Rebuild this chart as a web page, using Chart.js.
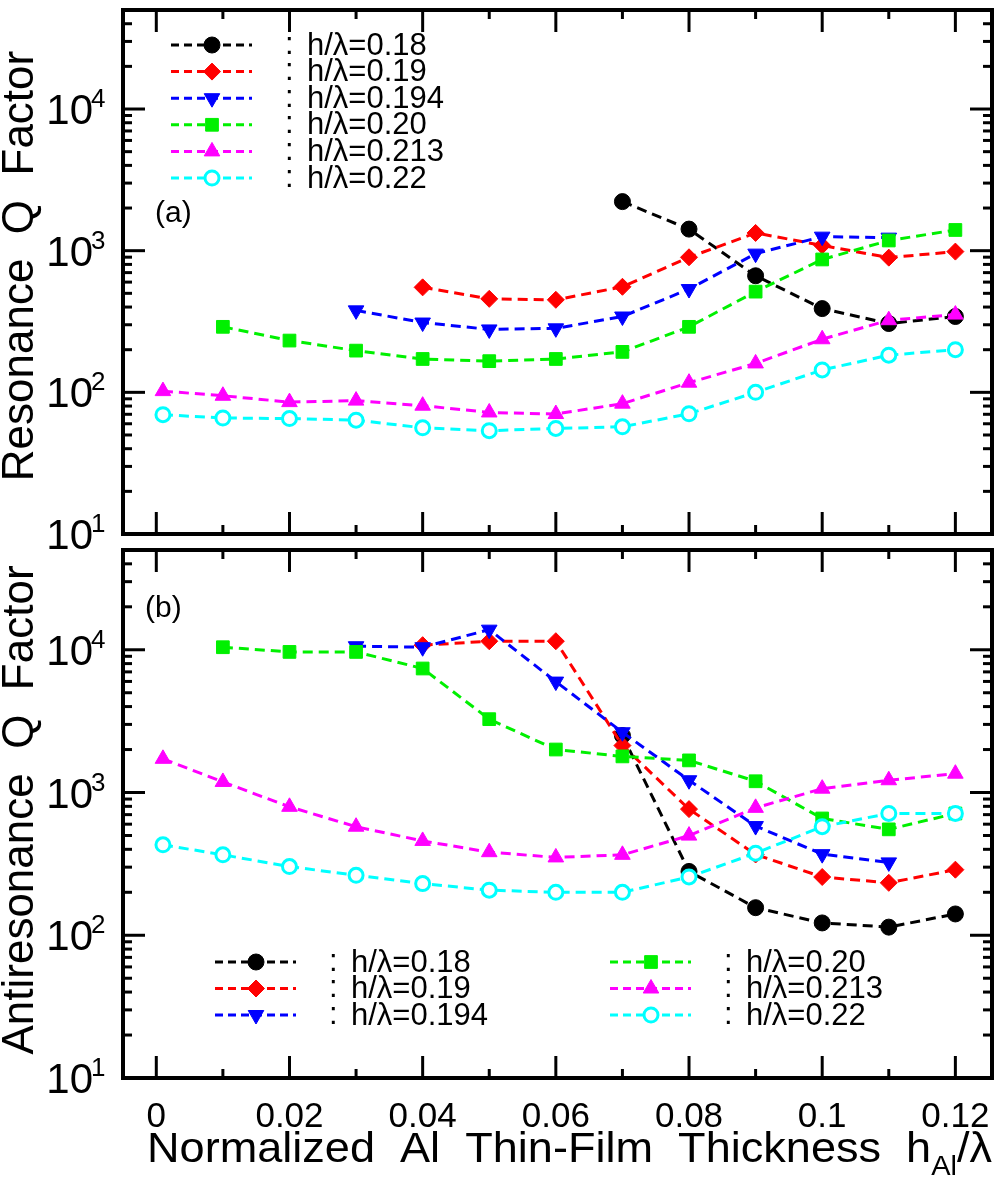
<!DOCTYPE html>
<html>
<head>
<meta charset="utf-8">
<script src="https://cdn.jsdelivr.net/npm/chart.js@4.4.0/dist/chart.umd.min.js"></script>
<style>
    body { margin: 0; background: #fff; }
    #wrap { position: relative; width: 1002px; height: 1178px; }
    canvas { position: absolute; left: 0; }
    #resonance { top: 0; z-index: 2; }
    #antiresonance { top: 540px; z-index: 1; }
</style>
</head>
<body>
<div id="wrap">
    <canvas id="resonance" width="1002" height="552"></canvas>
    <canvas id="antiresonance" width="1002" height="638"></canvas>
</div>
<script>
// normalized Al thickness h_Al/lambda
const thickness = [0.001, 0.01, 0.02, 0.03, 0.04, 0.05, 0.06, 0.07, 0.08, 0.09, 0.10, 0.11, 0.12];

const seriesNames = ['h/λ=0.18', 'h/λ=0.19', 'h/λ=0.194', 'h/λ=0.20', 'h/λ=0.213', 'h/λ=0.22'];

// (a) resonance Q
const resQ018  = [null, null, null, null, null, null, null, 2220, 1420, 665, 390, 306, 343];
const resQ019  = [null, null, null, null, 551, 457, 450, 556, 898, 1334, 1089, 893, 985];
const resQ0194 = [null, null, null, 379, 311, 278, 283, 343, 536, 953, 1256, 1236, null];
const resQ020  = [null, 290, 232, 197, 172, 166, 172, 193, 290, 514, 867, 1180, 1400];
const resQ0213 = [102, 94.6, 85.3, 87.4, 80.5, 72.1, 70.3, 83.2, 117, 160, 237, 323, 354];
const resQ022  = [69.5, 65.9, 65.3, 63.6, 56.2, 53.6, 55.6, 57.1, 70.6, 100, 144, 183, 200];

// (b) antiresonance Q
const antiQ018  = [null, null, null, null, null, null, null, 2505, 280, 156, 122, 114, 141];
const antiQ019  = [null, null, null, null, 10770, 11480, 11480, 2134, 765, 368, 256, 233, 288];
const antiQ0194 = [null, null, null, 10590, 10420, 13830, 5985, 2643, 1219, 582, 370, 324, null];
const antiQ020  = [null, 10420, 9660, 9660, 7393, 3265, 2001, 1791, 1679, 1199, 658, 552, 713];
const antiQ0213 = [1722, 1186, 794, 576, 458, 382, 351, 366, 499, 781, 1064, 1219, 1355];
const antiQ022  = [430, 366, 303, 263, 230, 207, 200, 200, 256, 376, 576, 713, 713];

const xTickValues = [0, 0.02, 0.04, 0.06, 0.08, 0.10, 0.12];
const xTickLabels = ['0', '0.02', '0.04', '0.06', '0.08', '0.1', '0.12'];
const yDecades = [1, 2, 3, 4];

const FONT = "'Liberation Sans', Arial, Helvetica, sans-serif";

const styles = [
    { color: '#000000', pointStyle: 'circle', radius: 8, rotation: 0, fill: '#000000', bw: 1 },
    { color: '#ff0000', pointStyle: 'rectRot', radius: 8.5, rotation: 0, fill: '#ff0000', bw: 1 },
    { color: '#0000ff', pointStyle: 'triangle', radius: 9, rotation: 180, fill: '#0000ff', bw: 1 },
    { color: '#00f000', pointStyle: 'rect', radius: 9, rotation: 0, fill: '#00f000', bw: 1 },
    { color: '#ff00ff', pointStyle: 'triangle', radius: 9, rotation: 0, fill: '#ff00ff', bw: 1 },
    { color: '#00ffff', pointStyle: 'circle', radius: 7, rotation: 0, fill: '#ffffff', bw: 3 },
];

function toPoints(values) {
    return thickness.map((x, i) => ({ x: x, y: values[i] })).filter(p => p.y !== null);
}

function makeDatasets(list) {
    return list.map((values, i) => ({
        label: seriesNames[i],
        data: toPoints(values),
        borderColor: styles[i].color,
        backgroundColor: styles[i].fill,
        borderWidth: 3,
        borderDash: [10, 6],
        pointStyle: styles[i].pointStyle,
        pointRadius: styles[i].radius,
        pointRotation: styles[i].rotation,
        pointBackgroundColor: styles[i].fill,
        pointBorderColor: styles[i].color,
        pointBorderWidth: styles[i].bw,
        tension: 0,
        order: 5 - i,
    }));
}

function line(ctx, x1, y1, x2, y2) {
    ctx.beginPath();
    ctx.moveTo(x1, y1);
    ctx.lineTo(x2, y2);
    ctx.stroke();
}

// frame, inward ticks, tick labels, titles and legend
const axesPlugin = {
    id: 'axesPlugin',
    afterDraw(chart, args, opts) {
        const ctx = chart.ctx;
        const a = chart.chartArea;
        const x = chart.scales.x;
        const y = chart.scales.y;
        ctx.save();
        ctx.strokeStyle = '#000';
        ctx.fillStyle = '#000';
        ctx.lineWidth = 3;

        for (let i = 0; i <= 12; i++) {
            const px = x.getPixelForValue(i / 100);
            const len = i % 2 === 0 ? 22 : 9;
            line(ctx, px, a.bottom, px, a.bottom - len);
            line(ctx, px, a.top, px, a.top + len);
        }
        yDecades.forEach(d => {
            for (let m = 1; m <= 9; m++) {
                const v = m * Math.pow(10, d);
                if (v > y.max) break;
                const py = y.getPixelForValue(v);
                const len = m === 1 ? 22 : 9;
                line(ctx, a.left, py, a.left + len, py);
                line(ctx, a.right, py, a.right - len, py);
            }
        });

        ctx.lineWidth = 4;
        ctx.strokeRect(a.left, a.top, a.right - a.left, a.bottom - a.top);

        // y tick labels 10^n
        yDecades.forEach(d => {
            const py = y.getPixelForValue(Math.pow(10, d));
            ctx.font = '42px ' + FONT;
            ctx.textAlign = 'right';
            ctx.textBaseline = 'alphabetic';
            ctx.fillText('10', 93, py + 15);
            ctx.font = '26px ' + FONT;
            ctx.textAlign = 'left';
            ctx.fillText(String(d), 91, py - 2);
        });

        // x tick labels
        if (opts.xLabels) {
            ctx.font = '35px ' + FONT;
            ctx.textAlign = 'center';
            xTickValues.forEach((v, i) => {
                ctx.fillText(xTickLabels[i], x.getPixelForValue(v), a.bottom + 49);
            });
            // x title with subscript, fitted between x=147 and x=992
            const base = a.bottom + 84;
            const main = 'Normalized  Al  Thin-Film  Thickness  h';
            ctx.font = '42px ' + FONT;
            const w1 = ctx.measureText(main).width;
            const w3 = ctx.measureText('/λ').width;
            ctx.font = '27px ' + FONT;
            const w2 = ctx.measureText('Al').width;
            const sx = 845 / (w1 + w2 + w3);
            ctx.save();
            ctx.translate(147, base);
            ctx.scale(sx, 1);
            ctx.textAlign = 'left';
            ctx.font = '42px ' + FONT;
            ctx.fillText(main, 0, 0);
            ctx.font = '27px ' + FONT;
            ctx.fillText('Al', w1, 13);
            ctx.font = '42px ' + FONT;
            ctx.fillText('/λ', w1 + w2, 0);
            ctx.restore();
        }

        // y title
        ctx.save();
        ctx.translate(33, opts.titleY);
        ctx.rotate(-Math.PI / 2);
        ctx.font = '44px ' + FONT;
        ctx.textAlign = 'center';
        ctx.fillText(opts.title, 0, 0);
        ctx.restore();

        // panel tag
        ctx.font = '30px ' + FONT;
        ctx.textAlign = 'left';
        ctx.fillText(opts.tag, opts.tagX, opts.tagY);

        // legend
        opts.legend.forEach(item => {
            const st = styles[item.i];
            ctx.strokeStyle = st.color;
            ctx.lineWidth = 3;
            ctx.setLineDash([8, 5]);
            line(ctx, item.x0, item.y, item.x0 + 81, item.y);
            ctx.setLineDash([]);
            ctx.fillStyle = st.fill;
            ctx.lineWidth = st.bw;
            Chart.helpers.drawPoint(ctx, {
                pointStyle: st.pointStyle, rotation: st.rotation,
                radius: st.radius, borderWidth: st.bw
            }, item.x0 + 41, item.y);
            ctx.fillStyle = '#000';
            ctx.font = '31px ' + FONT;
            ctx.textBaseline = 'middle';
            ctx.fillText(':', item.x0 + 114, item.y);
            ctx.fillText(seriesNames[item.i], item.x0 + 136, item.y + 1);
            ctx.textBaseline = 'alphabetic';
        });

        ctx.restore();
    }
};

function makeChart(id, lists, padding, opts) {
    return new Chart(document.getElementById(id).getContext('2d'), {
        type: 'line',
        data: { datasets: makeDatasets(lists) },
        options: {
            responsive: false,
            animation: false,
            devicePixelRatio: 1,
            layout: { padding: padding },
            scales: {
                x: { type: 'linear', min: -0.005, max: 0.1255, display: false },
                y: { type: 'logarithmic', min: 10, max: 50000, display: false },
            },
            plugins: {
                legend: { display: false },
                tooltip: { enabled: false },
                axesPlugin: opts,
            },
        },
        plugins: [axesPlugin],
    });
}

const topLegend = [0, 1, 2, 3, 4, 5].map(i => ({ i: i, x0: 171, y: 45 + i * 26.6 }));
const bottomLegend = [0, 1, 2, 3, 4, 5].map(i => ({
    i: i, x0: i < 3 ? 215 : 610, y: 422 + (i % 3) * 26.5
}));

makeChart('resonance', [resQ018, resQ019, resQ0194, resQ020, resQ0213, resQ022],
    { left: 123, right: 4, top: 2, bottom: 18 },
    { title: 'Resonance  Q  Factor', titleY: 266, tag: '(a)', tagX: 155, tagY: 222,
      legend: topLegend, xLabels: false });

makeChart('antiresonance', [antiQ018, antiQ019, antiQ0194, antiQ020, antiQ0213, antiQ022],
    { left: 123, right: 4, top: 5, bottom: 100 },
    { title: 'Antiresonance  Q  Factor', titleY: 270, tag: '(b)', tagX: 145, tagY: 77,
      legend: bottomLegend, xLabels: true });
</script>
</body>
</html>
